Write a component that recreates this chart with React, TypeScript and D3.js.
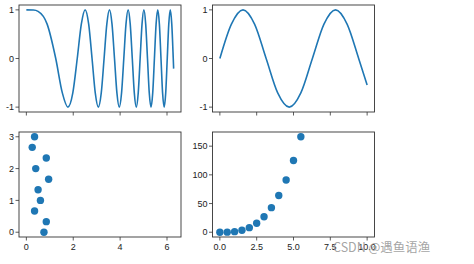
import React from "react";
import * as d3 from "d3";

// Top-left line: cos(x^2) read at extrema / crossings / half points
const tlX = [0, 0.3, 0.5, 0.8862, 1.2533, 1.535, 1.7725, 1.9817, 2.1708, 2.3447, 2.5066, 2.6587, 2.8025, 2.9393, 3.07, 3.1953, 3.316, 3.4324, 3.5449, 3.654, 3.7599, 3.863, 3.9633, 4.0612, 4.1568, 4.2502, 4.3416, 4.4311, 4.5189, 4.605, 4.6895, 4.7725, 4.8541, 4.9343, 5.0133, 5.091, 5.1675, 5.243, 5.3174, 5.3907, 5.4631, 5.5345, 5.605, 5.6747, 5.7434, 5.8114, 5.8786, 5.945, 6.0107, 6.0757, 6.14, 6.2036, 6.2666, 6.2832];
const tlY = [1, 0.996, 0.969, 0.707, 0, -0.707, -1, -0.707, 0, 0.707, 1, 0.707, 0, -0.707, -1, -0.707, 0, 0.707, 1, 0.707, 0, -0.707, -1, -0.707, 0, 0.707, 1, 0.707, 0, -0.707, -1, -0.707, 0, 0.707, 1, 0.707, 0, -0.707, -1, -0.707, 0, 0.707, 1, 0.707, 0, -0.707, -1, -0.707, 0, 0.707, 1, 0.707, 0, -0.208];

// Top-right line: sin(x)
const trX = [0, 0.785, 1.571, 2.356, 3.142, 3.927, 4.712, 5.498, 6.283, 7.069, 7.854, 8.639, 9.425, 10];
const trY = [0, 0.707, 1, 0.707, 0, -0.707, -1, -0.707, 0, 0.707, 1, 0.707, 0, -0.544];

// Bottom-left scatter
const blX = [0.75, 0.85, 0.35, 0.6, 0.5, 0.95, 0.4, 0.85, 0.25, 0.35];
const blY = [0, 0.333, 0.667, 1, 1.333, 1.667, 2, 2.333, 2.667, 3];

// Bottom-right scatter
const brX = [0, 0.5, 1, 1.5, 2, 2.5, 3, 3.5, 4, 4.5, 5, 5.5];
const brY = [0, 0.125, 1, 3.375, 8, 15.625, 27, 42.875, 64, 91.125, 125, 166.375];

const leftXTicks = [0, 2, 4, 6];
const rightXTicks = [0, 2.5, 5, 7.5, 10];
const topYTicks = [-1, 0, 1];
const blYTicks = [0, 1, 2, 3];
const brYTicks = [0, 50, 100, 150];

const BLUE = "#1f77b4";
const FONT = "'Liberation Sans', 'DejaVu Sans', sans-serif";

type PanelProps = {
  x0: number; x1: number; y0: number; y1: number;
  xDomain: [number, number]; yDomain: [number, number];
  xTicks: number[]; yTicks: number[];
  showXLabels: boolean; xFmt: (v: number) => string;
  line?: { xs: number[]; ys: number[] };
  points?: { xs: number[]; ys: number[] };
};

function Panel(p: PanelProps) {
  const xs = d3.scaleLinear().domain(p.xDomain).range([p.x0, p.x1]);
  const ys = d3.scaleLinear().domain(p.yDomain).range([p.y1, p.y0]);
  let path = "";
  if (p.line) {
    const pts: [number, number][] = p.line.xs.map((v, i) => [v, p.line!.ys[i]]);
    path = d3.line<[number, number]>().x(d => xs(d[0])).y(d => ys(d[1])).curve(d3.curveMonotoneX)(pts) || "";
  }
  return (
    <g>
      <defs>
        <clipPath id={`clip${p.x0}${p.y0}`}>
          <rect x={p.x0} y={p.y0} width={p.x1 - p.x0} height={p.y1 - p.y0} />
        </clipPath>
      </defs>
      {p.line && (
        <path d={path} fill="none" stroke={BLUE} strokeWidth={1.6} clipPath={`url(#clip${p.x0}${p.y0})`} />
      )}
      {p.points && p.points.xs.map((v, i) => (
        <circle key={i} cx={xs(v)} cy={ys(p.points!.ys[i])} r={3.7} fill={BLUE} />
      ))}
      <rect x={p.x0} y={p.y0} width={p.x1 - p.x0} height={p.y1 - p.y0} fill="none" stroke="#333" strokeWidth={0.9} />
      {p.xTicks.map(t => (
        <g key={"x" + t}>
          <line x1={xs(t)} x2={xs(t)} y1={p.y1} y2={p.y1 + 3.5} stroke="#333" strokeWidth={0.8} />
          {p.showXLabels && (
            <text x={xs(t)} y={p.y1 + 13} textAnchor="middle" fontSize={9} fontFamily={FONT} fill="#222">{p.xFmt(t)}</text>
          )}
        </g>
      ))}
      {p.yTicks.map(t => (
        <g key={"y" + t}>
          <line x1={p.x0 - 3.5} x2={p.x0} y1={ys(t)} y2={ys(t)} stroke="#333" strokeWidth={0.8} />
          <text x={p.x0 - 5} y={ys(t) + 3.2} textAnchor="end" fontSize={9} fontFamily={FONT} fill="#222">{t < 0 ? "-" + Math.abs(t) : String(t)}</text>
        </g>
      ))}
    </g>
  );
}

export default function App() {
  const lx0 = 19, lx1 = 181, rx0 = 212.5, rx1 = 374.5;
  const ty0 = 5, ty1 = 112, by0 = 132, by1 = 237;
  const leftDom: [number, number] = [-0.314, 6.597];
  const rightDom: [number, number] = [-0.5, 10.5];
  const fInt = (v: number) => String(v);
  const f1 = (v: number) => v.toFixed(1);
  return (
    <svg width={474} height={264} style={{ position: "absolute", left: 0, top: 0, background: "#fff" }}>
      <rect width={474} height={264} fill="#fff" />
      <Panel x0={lx0} x1={lx1} y0={ty0} y1={ty1} xDomain={leftDom} yDomain={[-1.1, 1.1]}
        xTicks={leftXTicks} yTicks={topYTicks} showXLabels={false} xFmt={fInt}
        line={{ xs: tlX, ys: tlY }} />
      <Panel x0={rx0} x1={rx1} y0={ty0} y1={ty1} xDomain={rightDom} yDomain={[-1.1, 1.1]}
        xTicks={rightXTicks} yTicks={topYTicks} showXLabels={false} xFmt={f1}
        line={{ xs: trX, ys: trY }} />
      <Panel x0={lx0} x1={lx1} y0={by0} y1={by1} xDomain={leftDom} yDomain={[-0.15, 3.15]}
        xTicks={leftXTicks} yTicks={blYTicks} showXLabels={true} xFmt={fInt}
        points={{ xs: blX, ys: blY }} />
      <Panel x0={rx0} x1={rx1} y0={by0} y1={by1} xDomain={rightDom} yDomain={[-8.32, 174.7]}
        xTicks={rightXTicks} yTicks={brYTicks} showXLabels={true} xFmt={f1}
        points={{ xs: brX, ys: brY }} />
      <text x={333} y={252} fontSize={12.5} fontFamily="'Noto Sans CJK SC', 'Noto Sans', sans-serif" fill="#9a9a9a" fillOpacity={0.9}>CSDN @遇鱼语渔</text>
    </svg>
  );
}
